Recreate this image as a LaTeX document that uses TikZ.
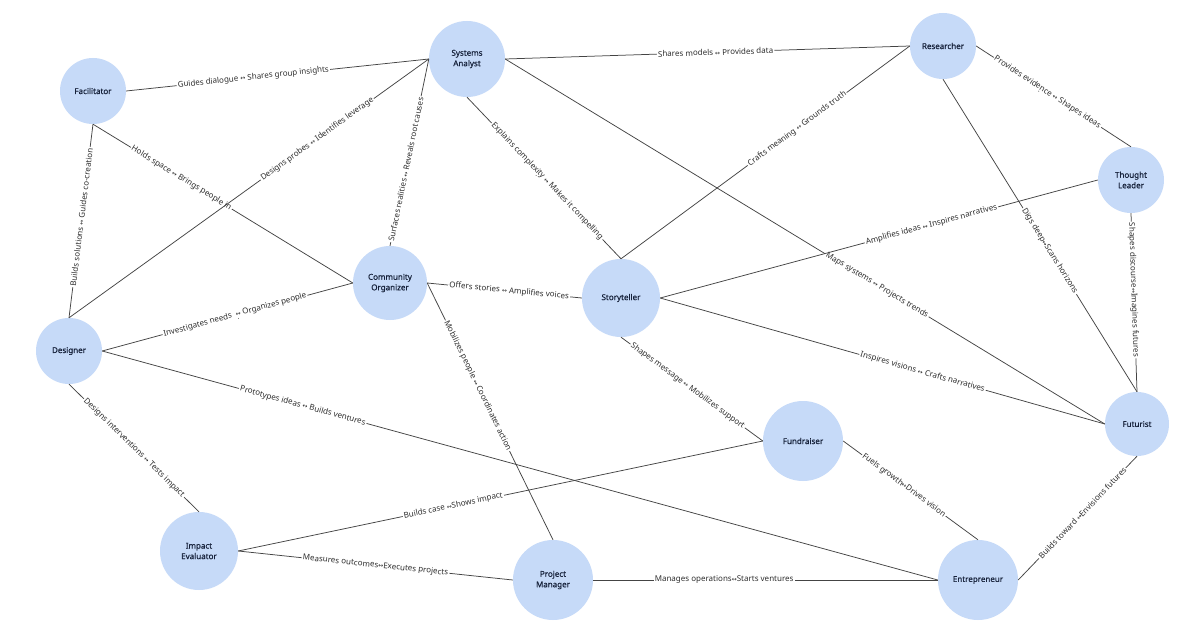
\documentclass[tikz,border=0pt]{standalone}
\usepackage{fontspec}
\setmainfont{Noto Sans}
\newfontfamily\arrfont{DejaVu Sans}
\newfontfamily\nodefont[FakeBold=0.6]{Noto Sans}
\newcommand{\bi}{{\arrfont\fontsize{6}{6}\selectfont ↔}}
\definecolor{nodefill}{HTML}{C6DAF8}
\definecolor{nodetext}{HTML}{16213A}
\definecolor{edgecol}{HTML}{444444}
\definecolor{lbltext}{HTML}{2E2E2E}
\tikzset{
  x=1pt, y=-1pt,
  person/.style={circle, fill=nodefill, draw=none, text=nodetext, align=center,
    font=\nodefont\fontsize{8}{10.5}\selectfont, inner sep=0pt},
  edge/.style={draw=edgecol, line width=0.75pt},
  lbl/.style={sloped, fill=white, text=lbltext, inner sep=1.2pt,
    font=\fontsize{8}{9.5}\selectfont},
  dotlbl/.style={sloped, anchor=north, text=lbltext, inner sep=3.5pt,
    font=\fontsize{7}{8}\selectfont}
}
\begin{document}
\begin{tikzpicture}
\useasboundingbox[fill=white] (0,0) rectangle (1200,631);
% nodes
\node[person, minimum size=66] (fac) at (93,91) {Facilitator};
\node[person, minimum size=76] (sa) at (467,59) {Systems\\Analyst};
\node[person, minimum size=66] (res) at (943,46) {Researcher};
\node[person, minimum size=66] (tl) at (1131,180) {Thought\\Leader};
\node[person, minimum size=66] (des) at (69,351) {Designer};
\node[person, minimum size=74] (co) at (390,283) {Community\\Organizer};
\node[person, minimum size=78] (st) at (621,298) {Storyteller};
\node[person, minimum size=80] (fr) at (803,441) {Fundraiser};
\node[person, minimum size=64] (fu) at (1137,424) {Futurist};
\node[person, minimum size=78] (ie) at (199,551) {Impact\\Evaluator};
\node[person, minimum size=80] (pm) at (553,580) {Project\\Manager};
\node[person, minimum size=80] (en) at (978,580) {Entrepreneur};
% edges
\draw[edge] (fac.east) -- node[lbl, pos=.42] {Guides dialogue \bi{} Shares group insights} (sa.west);
\draw[edge] (des.north) -- node[lbl, pos=.52] {Builds solutions \bi{} Guides co-creation} (fac.south);
\draw[edge] (fac.south) -- node[lbl, pos=.34] {Holds space \bi{} Brings people in} (co.west);
\draw[edge] (des.north) -- node[lbl, pos=.69] {Designs probes \bi{} Identifies leverage} (sa.west);
\draw[edge] (co.north) -- node[lbl, pos=.41] {Surfaces realities \bi{} Reveals root causes} (sa.west);
\draw[edge] (sa.east) -- node[lbl, pos=.52] {Shares models \bi{} Provides data} (res.west);
\draw[edge] (sa.south) -- node[lbl, pos=.52] {Explains complexity \bi{} Makes it compelling}
  node[dotlbl, pos=.47] {.} (st.north);
\draw[edge] (sa.east) -- node[lbl, pos=.62] {Maps systems \bi{} Projects trends} (fu.west);
\draw[edge] (st.north) -- node[lbl, pos=.61] {Crafts meaning \bi{} Grounds truth} (res.west);
\draw[edge] (res.east) -- node[lbl, pos=.46] {Provides evidence \bi{} Shapes ideas}
  node[dotlbl, pos=.42] {.} (tl.north);
\draw[edge] (res.south) -- node[lbl, pos=.55] {Digs deep\bi{}Scans horizons} (fu.north);
\draw[edge] (tl.south) -- node[lbl, pos=.43] {Shapes discourse\bi{}Imagines futures} (fu.north);
\draw[edge] (st.east) -- node[lbl, pos=.62] {Amplifies ideas \bi{} Inspires narratives} (tl.west);
\draw[edge] (st.east) -- node[lbl, pos=.59] {Inspires visions \bi{} Crafts narratives} (fu.west);
\draw[edge] (co.east) -- node[lbl, pos=.53] {Offers stories \bi{} Amplifies voices} (st.west);
\draw[edge] (des.east) -- node[lbl, pos=.53] {Investigates needs~ \bi{} Organizes people}
  node[dotlbl, pos=.54] {.} (co.west);
\draw[edge] (des.east) -- node[lbl, pos=.24] {Prototypes ideas \bi{} Builds ventures} (en.west);
\draw[edge] (des.south) -- node[lbl, pos=.50] {Designs interventions \bi{} Tests impact} (ie.north);
\draw[edge] (co.east) -- node[lbl, pos=.40] {Mobilizes people \bi{} Coordinates action} (pm.north);
\draw[edge] (st.south) -- node[lbl, pos=.47] {Shapes message \bi{} Mobilizes support} (fr.west);
\draw[edge] (ie.east) -- node[lbl, pos=.41] {Builds case \bi{}Shows impact} (fr.west);
\draw[edge] (fr.east) -- node[lbl, pos=.45] {Fuels growth\bi{}Drives vision} (en.north);
\draw[edge] (ie.east) -- node[lbl, pos=.50] {Measures outcomes\bi{}Executes projects} (pm.west);
\draw[edge] (pm.east) -- node[lbl, pos=.38] {Manages operations\bi{}Starts ventures} (en.west);
\draw[edge] (en.east) -- node[lbl, pos=.54] {Builds toward \bi{}Envisions futures} (fu.south);
\end{tikzpicture}
\end{document}
